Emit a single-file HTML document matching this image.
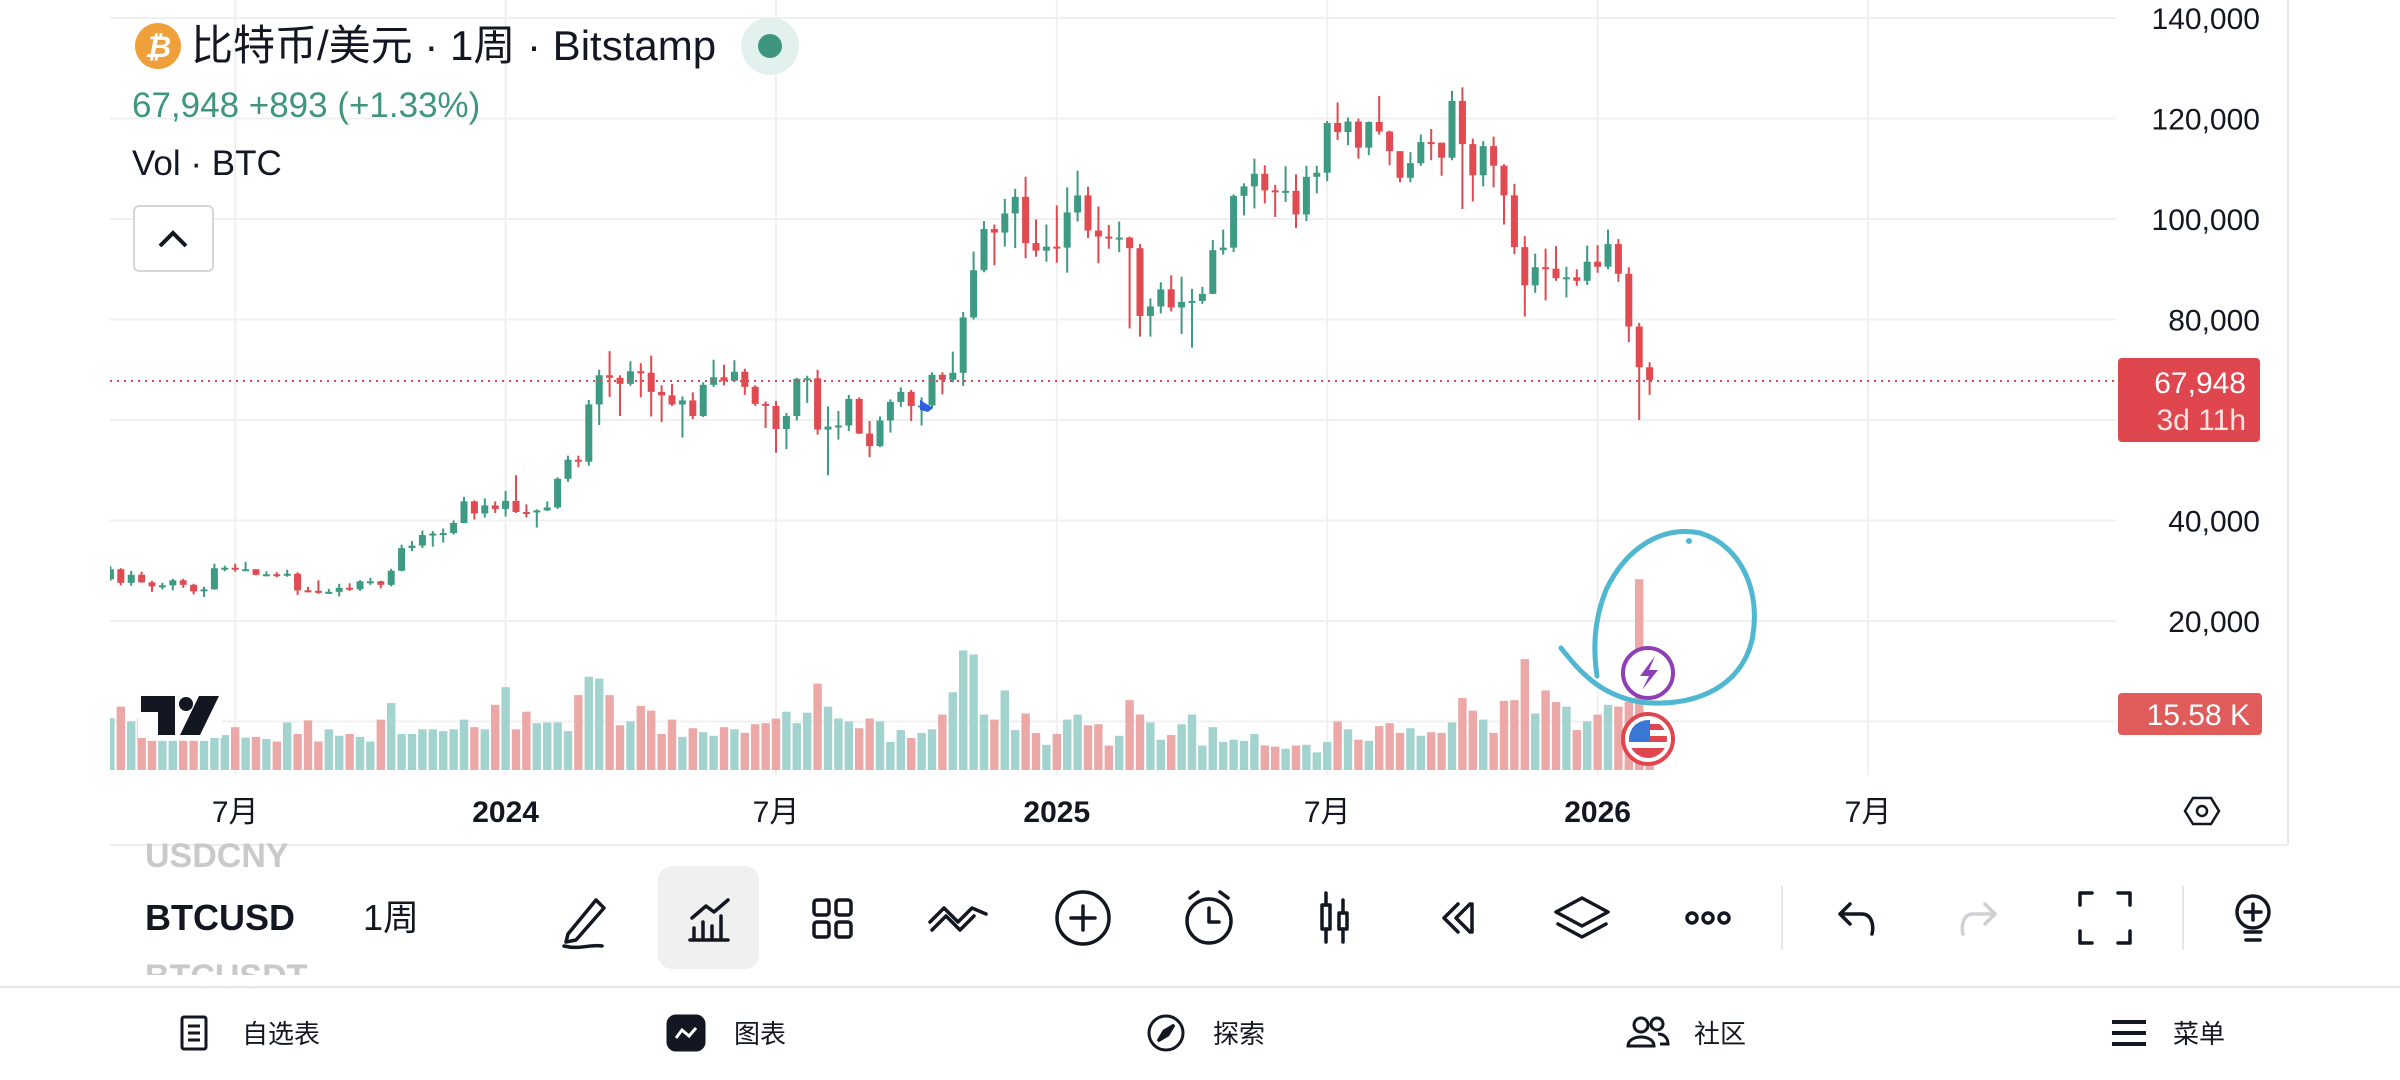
<!DOCTYPE html>
<html><head><meta charset="utf-8">
<style>
html,body{margin:0;padding:0;background:#fff;width:2400px;height:1080px;overflow:hidden;font-family:"Liberation Sans","Noto Sans CJK SC",sans-serif;}
svg{position:absolute;left:0;top:0}
.t{font-family:"Liberation Sans","Noto Sans CJK SC",sans-serif}
</style></head>
<body>
<svg id="chart" width="2400" height="1080" viewBox="0 0 2400 1080" xmlns="http://www.w3.org/2000/svg">
  <defs><clipPath id="plot"><rect x="110" y="0" width="2006" height="790"/></clipPath></defs>
  <g id="grid"></g>
  <g id="vols" clip-path="url(#plot)"></g>
  <g id="candles" clip-path="url(#plot)"></g>
  <line x1="110" y1="381" x2="2118" y2="381" stroke="#e0464e" stroke-width="2" stroke-dasharray="2,5"/>
  <g id="yaxis"></g>
  <g id="xaxis"></g>
  <line x1="2288" y1="0" x2="2288" y2="845" stroke="#e6e6e6" stroke-width="2"/>
  <line x1="110" y1="845" x2="2288" y2="845" stroke="#eeeeee" stroke-width="2"/>
  <rect x="2118" y="358" width="142" height="84" rx="4" fill="#e0464e"/>
  <text x="2246" y="393" text-anchor="end" class="t" font-size="30" fill="#fff">67,948</text>
  <text x="2246" y="430" text-anchor="end" class="t" font-size="30" fill="#fde3e3">3d 11h</text>
  <rect x="2118" y="693" width="144" height="42" rx="4" fill="#e05c5a"/>
  <text x="2250" y="725" text-anchor="end" class="t" font-size="30" fill="#fff">15.58 K</text>
  <g transform="translate(2202,811)">
    <polygon points="-17,0 -9,-13 9,-13 17,0 9,13 -9,13" fill="none" stroke="#131722" stroke-width="2.5"/>
    <circle r="5" fill="none" stroke="#131722" stroke-width="2.5"/>
  </g>
  <g>
    <rect x="138" y="694" width="84" height="44" fill="#fff"/>
    <path d="M141 696 H175 V735 H158 V712 H141 Z" fill="#131722"/>
    <circle cx="186" cy="704" r="7" fill="#131722"/>
    <path d="M199 696 H219 L200 735 H180 Z" fill="#131722"/>
  </g>
  <path d="M920 400 L933 408 L928 412 L920 410 Z" fill="#2f5fe0"/>
  <path d="M1561 648 C1580 672 1600 695 1640 702 C1690 708 1740 690 1752 640 C1762 590 1740 545 1700 533 C1660 525 1625 550 1606 590 C1592 625 1594 655 1597 676" fill="none" stroke="#4fb8d0" stroke-width="5" stroke-linecap="round"/>
  <circle cx="1689" cy="541" r="3" fill="#4fb8d0"/>
  <g>
    <circle cx="1648" cy="673" r="25" fill="#fff" stroke="#8e3fb5" stroke-width="4"/>
    <path d="M1655 656 L1640 676 L1649 676 L1642 690 L1658 670 L1649 670 Z" fill="#8e3fb5"/>
  </g>
  <g>
    <circle cx="1648" cy="739" r="25" fill="#fff" stroke="#e0464e" stroke-width="4"/>
    <clipPath id="fc"><circle cx="1648" cy="739" r="19"/></clipPath>
    <g clip-path="url(#fc)">
      <rect x="1628" y="720" width="40" height="40" fill="#fff"/>
      <rect x="1628" y="724" width="40" height="6" fill="#e0464e"/>
      <rect x="1628" y="736" width="40" height="6" fill="#e0464e"/>
      <rect x="1628" y="748" width="40" height="12" fill="#e0464e"/>
      <rect x="1628" y="720" width="22" height="22" fill="#3a78d8"/>
    </g>
  </g>
  <g>
    <circle cx="158" cy="46" r="23" fill="#f0a03a"/>
    <text x="158" y="57" text-anchor="middle" font-size="30" font-weight="bold" fill="#fff" font-style="italic" class="t">₿</text>
    <text x="191" y="60" class="t" font-size="42" fill="#131722">比特币/美元 · 1周 · Bitstamp</text>
    <circle cx="770" cy="46" r="29" fill="#e2f1ed"/>
    <circle cx="770" cy="46" r="12" fill="#3f957f"/>
  </g>
  <text x="132" y="117" class="t" font-size="35" fill="#3f957f">67,948  +893 (+1.33%)</text>
  <text x="132" y="175" class="t" font-size="35" fill="#131722">Vol · BTC</text>
  <g>
    <rect x="134" y="206" width="79" height="65" rx="5" fill="#fff" stroke="#d6d6d6" stroke-width="2"/>
    <path d="M160 246 L173 233 L186 246" fill="none" stroke="#131722" stroke-width="4"/>
  </g>
  <text x="145" y="867" class="t" font-size="34" fill="#c9c9cc" font-weight="bold">USDCNY</text>
  <text x="145" y="930" class="t" font-size="36" fill="#131722" font-weight="bold">BTCUSD</text>
  <text x="145" y="988" class="t" font-size="34" fill="#c9c9cc" font-weight="bold">BTCUSDT</text>
  <rect x="0" y="975" width="340" height="12" fill="#fff"/>
  <text x="363" y="930" class="t" font-size="36" fill="#131722">1周</text>
  <rect x="658" y="866" width="101" height="103" rx="14" fill="#f0f0f0"/>
  <g fill="none" stroke="#131722" stroke-width="3.5" stroke-linecap="round" stroke-linejoin="round">
    <g><path d="M568 934 L596 900 L604 908 L576 940 L566 942 Z"/><path d="M564 946 C580 950 590 944 602 946"/></g>
    <g><path d="M690 940 H728 M694 940 V928 M703 940 V922 M712 940 V926 M721 940 V916 M692 918 L706 906 L714 912 L728 900"/></g>
    <g><rect x="814" y="900" width="15" height="15" rx="3"/><rect x="836" y="900" width="15" height="15" rx="3"/><rect x="814" y="922" width="15" height="15" rx="3"/><rect x="836" y="922" width="15" height="15" rx="3"/></g>
    <g><path d="M930 922 L944 908 L958 922 L972 908 L986 914 M932 930 L946 916 L960 930 L974 916"/></g>
    <g><circle cx="1083" cy="918" r="26"/><path d="M1083 906 V930 M1071 918 H1095"/></g>
    <g><circle cx="1209" cy="921" r="22"/><path d="M1209 908 V922 H1219 M1190 898 L1198 892 M1228 898 L1220 892"/></g>
    <g><rect x="1322" y="905" width="8" height="24"/><rect x="1339" y="913" width="8" height="16"/><path d="M1326 893 V905 M1326 929 V942 M1343 900 V913 M1343 929 V942"/></g>
    <g><path d="M1470 904 L1456 918 L1470 932 M1458 904 L1444 918 L1458 932"/><path d="M1472 904 V932"/></g>
    <g><path d="M1582 898 L1608 912 L1582 926 L1556 912 Z M1558 924 L1582 937 L1606 924"/></g>
    <g><circle cx="1692" cy="918" r="5"/><circle cx="1708" cy="918" r="5"/><circle cx="1724" cy="918" r="5"/></g>
    <g><path d="M1850 904 L1840 914 L1850 924 M1840 914 H1862 C1872 914 1874 926 1872 934"/></g>
    <g stroke="#d0d0d4"><path d="M1985 904 L1995 914 L1985 924 M1995 914 H1973 C1963 914 1961 926 1963 934"/></g>
    <g><path d="M2080 905 V893 H2092 M2118 893 H2130 V905 M2130 931 V943 H2118 M2092 943 H2080 V931"/></g>
    <g><circle cx="2253" cy="912" r="16"/><path d="M2245 932 H2261 M2246 940 H2260 M2253 904 V920 M2245 912 H2261"/></g>
  </g>
  <line x1="1782" y1="886" x2="1782" y2="950" stroke="#e6e6e6" stroke-width="2"/>
  <line x1="2183" y1="886" x2="2183" y2="950" stroke="#e6e6e6" stroke-width="2"/>
  <line x1="0" y1="987" x2="2400" y2="987" stroke="#e6e6e6" stroke-width="2"/>
  <g fill="none" stroke="#131722" stroke-width="3">
    <g><rect x="182" y="1017" width="24" height="32" rx="2"/><path d="M188 1026 H200 M188 1033 H200 M188 1040 H200"/></g>
    <g><rect x="668" y="1016" width="36" height="34" rx="8" fill="#131722"/><path d="M676 1038 L682 1030 L689 1036 L696 1028" stroke="#fff"/></g>
    <g><circle cx="1166" cy="1033" r="17"/><path d="M1174 1025 L1168 1035 L1158 1041 L1164 1031 Z" fill="#131722"/></g>
    <g><circle cx="1641" cy="1025" r="7"/><path d="M1628 1046 C1628 1034 1654 1034 1654 1046 Z"/><circle cx="1657" cy="1024" r="6"/><path d="M1658 1034 C1664 1034 1668 1038 1668 1044 H1660"/></g>
    <g><path d="M2112 1022 H2146 M2112 1033 H2146 M2112 1044 H2146" stroke-width="4"/></g>
  </g>
  <text x="242" y="1043" class="t" font-size="26" fill="#131722">自选表</text>
  <text x="734" y="1043" class="t" font-size="26" fill="#131722">图表</text>
  <text x="1213" y="1043" class="t" font-size="26" fill="#131722">探索</text>
  <text x="1694" y="1043" class="t" font-size="26" fill="#131722">社区</text>
  <text x="2173" y="1043" class="t" font-size="26" fill="#131722">菜单</text>
</svg>
<script>
// weekly BTC/USD data (thousands USD), starting week of 2023-04-03
const firstOpen = 28.0;
const closes = [28.3,30.3,27.6,29.2,27.7,26.9,27.1,28.1,27.2,25.9,26.3,30.5,30.6,30.2,30.3,29.2,29.3,29.1,29.4,26.1,26.0,25.8,25.8,26.6,26.3,27.9,27.9,27.2,30.0,34.5,35.0,37.1,37.4,37.5,39.5,43.8,41.4,43.0,42.3,
43.9,41.7,41.6,42.0,42.6,48.3,52.1,51.7,63.1,68.9,68.4,67.2,69.7,69.4,65.6,64.9,63.1,63.9,60.8,67.0,68.5,67.8,69.6,66.6,63.2,62.8,58.2,60.8,68.2,68.3,58.1,58.7,58.9,64.2,57.3,54.8,59.9,63.6,65.6,62.8,62.9,69.0,68.0,69.4,80.4,89.8,98.0,97.3,101.1,104.4,95.2,93.7,94.5,
94.3,101.3,104.7,97.7,96.5,96.1,96.3,94.2,80.7,82.6,86.0,82.4,83.5,83.7,85.1,93.8,94.3,104.6,106.5,109.0,105.7,105.4,105.6,100.9,108.4,109.2,119.1,117.3,119.4,114.2,119.3,117.4,113.5,108.2,111.1,115.3,115.2,112.2,123.5,114.9,108.7,114.5,110.6,104.7,94.4,86.8,90.4,90.1,88.2,88.4,87.7,91.5,
90.5,95.0,89.1,78.6,70.5,67.948];
const highs = [28.9,30.9,30.5,30.0,29.8,28.0,27.6,28.4,28.4,27.4,26.8,31.4,31.0,31.4,31.8,30.3,29.9,29.7,30.2,29.7,26.8,28.1,26.4,27.4,27.5,28.1,28.6,28.0,30.4,35.2,35.9,38.0,37.9,38.4,40.0,44.7,44.0,44.4,43.8,
45.9,49.0,43.2,42.2,43.8,48.6,52.9,52.9,64.0,70.0,73.7,68.9,71.7,71.3,72.8,66.9,67.2,64.7,65.5,67.5,72.0,71.0,71.9,70.2,66.9,63.7,63.8,61.4,68.4,68.8,70.0,62.7,61.8,65.0,64.5,59.8,60.7,64.1,66.5,66.0,64.5,69.5,69.5,73.6,81.5,93.5,99.6,98.9,104.0,106.0,108.4,99.9,98.9,
102.7,106.3,109.6,106.4,102.5,98.8,99.5,96.5,95.0,84.2,87.4,88.8,88.5,86.1,86.5,95.8,97.9,104.9,107.1,112.0,110.7,106.8,110.5,108.9,110.6,110.6,119.5,123.2,120.2,120.0,119.4,124.5,117.6,113.5,113.3,116.8,117.9,113.3,125.5,126.2,116.0,115.5,116.4,110.9,107.0,96.6,93.1,94.1,94.6,90.5,90.0,94.7,
94.8,97.9,96.0,90.4,79.3,71.5];
const lows = [27.2,28.0,27.1,27.0,27.6,25.8,26.3,26.1,26.6,25.3,24.8,26.2,29.9,29.8,30.1,29.1,28.9,28.7,28.8,25.2,25.7,25.4,25.4,24.9,26.0,26.0,27.2,26.5,26.9,29.9,33.9,34.5,34.8,35.6,37.2,39.5,40.2,40.6,41.5,
40.8,41.5,40.6,38.6,41.9,42.3,47.7,50.6,50.9,59.0,64.6,60.8,66.8,64.5,60.7,59.6,62.8,56.5,60.2,60.6,66.6,66.9,67.6,65.0,62.8,58.4,53.5,54.2,59.9,63.4,57.1,49.0,56.1,57.8,57.2,52.6,54.6,57.5,62.6,59.8,58.9,62.4,65.1,67.5,66.8,80.0,89.4,90.8,94.5,94.2,92.2,92.5,91.5,
91.3,89.3,99.5,96.2,91.2,94.1,93.4,78.2,76.6,76.6,81.2,81.6,77.1,74.4,83.1,85.1,92.9,93.4,100.7,102.1,103.1,100.4,103.4,98.2,99.6,105.1,107.5,115.7,114.7,112.0,112.7,116.8,110.7,107.3,107.3,110.6,111.7,108.6,111.7,102.0,103.5,106.5,106.3,98.9,93.0,80.6,85.3,83.8,87.7,84.4,86.7,86.9,
89.3,90.0,87.5,75.5,60.0,65.0];
const volumes = [12.4,14.4,17.6,13.5,14.4,8.1,8.1,8.1,8.1,8.1,8.1,14.4,9.7,11.9,9.0,9.2,8.6,7.9,13.2,10.0,13.8,7.9,11.3,9.5,10.0,9.2,7.9,14.0,18.6,10.0,10.0,11.3,11.3,10.8,11.3,14.0,11.9,11.3,18.1,
23.0,11.3,16.2,13.0,13.2,13.2,10.8,20.8,25.9,25.4,20.8,12.4,13.5,17.8,16.5,10.0,14.0,9.2,11.6,10.5,9.5,11.9,11.3,10.3,12.7,13.0,14.3,16.2,13.0,15.9,24.0,17.6,14.3,13.5,11.6,14.3,13.5,7.8,11.1,8.9,10.3,11.3,15.4,21.6,33.2,32.1,15.4,14.0,22.1,11.1,15.7,10.3,7.0,
10.0,14.0,15.4,12.4,12.7,6.8,9.5,19.4,15.4,13.2,8.4,9.7,12.7,15.4,6.8,11.9,7.8,8.4,8.1,10.0,6.8,6.5,5.9,6.8,7.0,4.9,7.8,13.5,11.3,8.4,8.1,12.2,13.0,10.3,11.6,9.5,10.5,10.3,13.2,20.0,16.5,14.0,10.3,19.2,19.4,30.8,15.7,22.1,18.9,17.6,11.1,13.5,
15.4,18.1,17.6,18.9,53.0,15.58];
const priceTicks = [140,120,100,80,60,40,20,0];
const priceTickLabels = ["140,000","120,000","100,000","80,000","","40,000","20,000",""];
const timeTickIdx = [13,39,65,92,118,144,170];
const timeTickLabels = ["7月","2024","7月","2025","7月","2026","7月"];
const timeTickBold = [false,true,false,true,false,true,false];

const NS = "http://www.w3.org/2000/svg";
const X0 = 100, STEP = 10.4;
function xOf(i){ return X0 + i*STEP; }
function yOf(p){ return 420 - (p-60)*5.025; }
function vY(v){ return 770 - v*3.6; }
function mk(tag, attrs, parent){ const e=document.createElementNS(NS,tag); for(const k in attrs) e.setAttribute(k,attrs[k]); parent.appendChild(e); return e; }

const grid = document.getElementById('grid');
const yaxis = document.getElementById('yaxis');
const xaxis = document.getElementById('xaxis');
priceTicks.forEach((p,k)=>{
  const y = yOf(p);
  const gl = mk('line',{x1:110,x2:2116,y1:y,y2:y,stroke:'#f0f0f0','stroke-width':2},grid);
  
  
  if(priceTickLabels[k]){
    const t = mk('text',{x:2260,y:y+11,'text-anchor':'end','font-size':30,fill:'#131722','class':'t'},yaxis);
    t.textContent = priceTickLabels[k];
    
    
  }
});
timeTickIdx.forEach((i,k)=>{
  const x = xOf(i);
  const gl = mk('line',{x1:x,x2:x,y1:0,y2:775,stroke:'#f0f0f0','stroke-width':2},grid);
  
  
  const t = mk('text',{x:x,y:822,'text-anchor':'middle','font-size':30,fill:'#131722','font-weight':timeTickBold[k]?'bold':'normal','class':'t'},xaxis);
  t.textContent = timeTickLabels[k];
  
  
});

const candles = document.getElementById('candles');
const vols = document.getElementById('vols');
for(let i=0;i<closes.length;i++){
  const o = i===0 ? firstOpen : closes[i-1];
  const c = closes[i];
  const up = c >= o;
  const col = up ? '#3d9a83' : '#e04a50';
  const x = xOf(i);
  const v = mk('rect',{x:x-4.2,y:vY(volumes[i]),width:8.4,height:volumes[i]*3.6,fill:up?'#a3d3ce':'#eba8a7'},vols);
  
  
  const g = mk('g',{},candles);
  
  
  mk('line',{x1:x,x2:x,y1:yOf(highs[i]),y2:yOf(lows[i]),stroke:col,'stroke-width':2},g);
  const top = yOf(Math.max(o,c)), bot = yOf(Math.min(o,c));
  mk('rect',{x:x-3.5,y:top,width:7,height:Math.max(2,bot-top),fill:col},g);
}
</script>
</body></html>
